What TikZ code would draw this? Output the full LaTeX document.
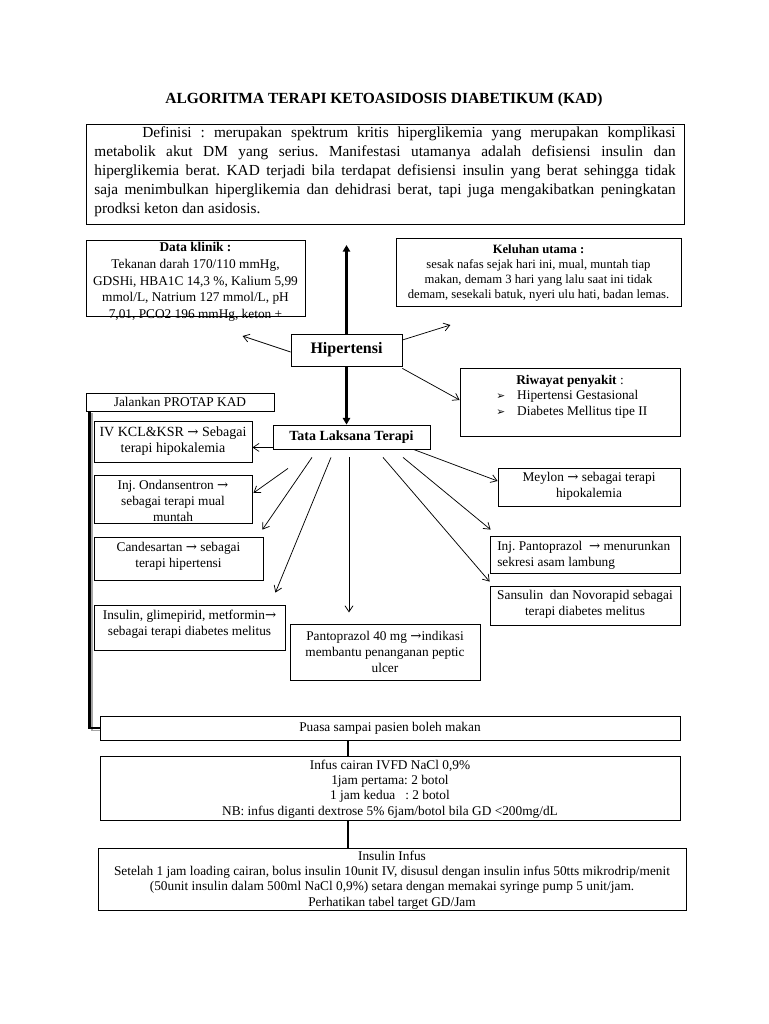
\documentclass[tikz,border=0pt]{standalone}
\usepackage{fontspec}
\setmainfont{Liberation Serif}
\newfontfamily\sym{DejaVu Sans}
\newfontfamily\arw{DejaVu Serif}
\usetikzlibrary{arrows.meta,calc,shadows}
\newcommand{\ra}{{\arw\fontsize{10}{10}\selectfont →}}
\frenchspacing
\begin{document}
\frenchspacing
\begin{tikzpicture}[x=0.75pt,y=-0.75pt,
  box/.style={draw=black,line width=0.6pt,fill=white,inner sep=0pt,
    drop shadow={shadow xshift=0.9pt,shadow yshift=-0.9pt,fill=black!45,opacity=1}},
  txt/.style={align=center,inner sep=0pt,font=\fontsize{10}{12}\selectfont},
  thin/.style={line width=0.55pt,-{Straight Barb[length=4.5pt,width=6pt]}},
  heavy/.style={line width=1.7pt,-{Triangle[length=5pt,width=5.5pt]}},
  heavyline/.style={line width=2.2pt}]
\useasboundingbox (0,0) rectangle (768,1024);
\fill[white] (0,0) rectangle (768,1024);

% title
\node[font=\bfseries\fontsize{11.6}{13}\selectfont] (title) at (384,100) {ALGORITMA TERAPI KETOASIDOSIS DIABETIKUM (KAD)};

% definisi
\node[box,minimum width=448.5pt,minimum height=75pt] (def) at (385,174) {};
\node[inner sep=0pt,text width=436pt,align=justify,font=\fontsize{11.5}{14.2}\selectfont] (deftext) at (385,172)
 {\frenchspacing\hspace*{36pt}Definisi : merupakan spektrum kritis hiperglikemia yang merupakan komplikasi\linebreak
 metabolik akut DM yang serius. Manifestasi utamanya adalah defisiensi insulin dan\linebreak
 hiperglikemia berat. KAD terjadi bila terdapat defisiensi insulin yang berat sehingga tidak\linebreak
 saja menimbulkan hiperglikemia dan dehidrasi berat, tapi juga mengakibatkan peningkatan\linebreak
 prodksi keton dan asidosis.};

% data klinik
\node[box,minimum width=164.25pt,minimum height=57pt] (dk) at (195.5,278) {};
\node[txt,font=\fontsize{10}{12.5}\selectfont] (dktext) at (195.5,282)
 {\textbf{Data klinik :}\\ Tekanan darah 170/110 mmHg,\\ GDSHi, HBA1C 14,3 \%, Kalium 5,99\\ mmol/L, Natrium 127 mmol/L, pH\\ 7,01, PCO2 196 mmHg, keton +};

% keluhan utama
\node[box,minimum width=213.75pt,minimum height=51pt] (ku) at (538.5,272) {};
\node[txt,font=\fontsize{9.5}{11.3}\selectfont] (kutext) at (538.5,273)
 {\textbf{Keluhan utama :}\\ sesak nafas sejak hari ini, mual, muntah tiap\\ makan, demam 3 hari yang lalu saat ini tidak\\ demam, sesekali batuk, nyeri ulu hati, badan lemas.};

% hipertensi
\node[box,minimum width=83.25pt,minimum height=24pt,font=\bfseries\fontsize{12}{13}\selectfont] (hip) at (346.5,350) {Hipertensi};

% riwayat
\node[box,minimum width=165pt,minimum height=51pt] (riw) at (570,402) {};
\node[txt] (riwtitle) at (570,381) {\textbf{Riwayat penyakit} :};
\node[txt,align=left,anchor=north west] (riwlist) at (496,389.5)
 {{\sym\fontsize{8}{10}\selectfont ➢}\hspace{9pt}Hipertensi Gestasional\\ {\sym\fontsize{8}{10}\selectfont ➢}\hspace{9pt}Diabetes Mellitus tipe II};

% jalankan protap
\node[box,minimum width=141pt,minimum height=13.5pt,font=\fontsize{10}{12}\selectfont] (jal) at (180,402) {Jalankan PROTAP KAD};

% tata laksana
\node[box,minimum width=117.75pt,minimum height=18pt,font=\bfseries\fontsize{10.5}{12}\selectfont] (tata) at (351.5,437) {Tata Laksana Terapi};

% left boxes
\node[box,minimum width=118.5pt,minimum height=30.75pt] (iv) at (173,441.5) {};
\node[txt,font=\fontsize{10.5}{12}\selectfont] (ivtext) at (173,441) {IV KCL\&KSR \ra{} Sebagai\\ terapi hipokalemia};

\node[box,minimum width=118.5pt,minimum height=36pt] (ond) at (173,499) {};
\node[txt] (ondtext) at (173,501) {Inj. Ondansentron \ra\\ sebagai terapi mual\\ muntah};

\node[box,minimum width=126.75pt,minimum height=32.25pt] (cand) at (178.5,558.5) {};
\node[txt] (candtext) at (178.5,556) {Candesartan \ra{} sebagai\\ terapi hipertensi};

\node[box,minimum width=143.25pt,minimum height=33.75pt] (ins) at (189.5,627.5) {};
\node[txt] (instext) at (189.5,624) {Insulin, glimepirid, metformin\ra\\ sebagai terapi diabetes melitus};

\node[box,minimum width=142.5pt,minimum height=42pt] (pan) at (385,652) {};
\node[txt] (pantext) at (385,652) {Pantoprazol 40 mg \ra indikasi\\ membantu penanganan peptic\\ ulcer};

% right boxes
\node[box,minimum width=136.5pt,minimum height=28.5pt] (mey) at (589,487) {};
\node[txt] (meytext) at (589,486.5) {Meylon \ra{} sebagai terapi\\ hipokalemia};

\node[box,minimum width=142.5pt,minimum height=27.75pt] (injp) at (585,554.5) {};
\node[txt,align=left,anchor=west] (injptext) at (497,555) {Inj. Pantoprazol \ \ra{} menurunkan\\ sekresi asam lambung};

\node[box,minimum width=142.5pt,minimum height=29.25pt] (san) at (585,605.5) {};
\node[txt] (santext) at (585,604.5) {Sansulin \ dan Novorapid sebagai\\ terapi diabetes melitus};

% bottom boxes
\node[box,minimum width=435pt,minimum height=18pt,font=\fontsize{10}{12}\selectfont] (puasa) at (390,728) {Puasa sampai pasien boleh makan};

\node[box,minimum width=435pt,minimum height=48pt] (inf) at (390,788) {};
\node[txt,font=\fontsize{10}{11.6}\selectfont] (inftext) at (390,789)
 {Infus cairan IVFD NaCl 0,9\%\\ 1jam pertama: 2 botol\\ 1 jam kedua \ \ : 2 botol\\ NB: infus diganti dextrose 5\% 6jam/botol bila GD <200mg/dL};

\node[box,minimum width=441pt,minimum height=46.5pt] (ii) at (392,879) {};
\node[txt,font=\fontsize{10}{11.6}\selectfont] (iitext) at (392,880)
 {Insulin Infus\\ Setelah 1 jam loading cairan, bolus insulin 10unit IV, disusul dengan insulin infus 50tts mikrodrip/menit\\ (50unit insulin dalam 500ml NaCl 0,9\%) setara dengan memakai syringe pump 5 unit/jam.\\ Perhatikan tabel target GD/Jam};

% free ends and helper points
\coordinate (top) at (346.5,245);
\coordinate (hl) at ($(hip.west)+(-48,-14)$);
\coordinate (hr) at ($(hip.east)+(48,-25)$);
\coordinate (pe) at ($(tata.south)+(-2.5,163)$);
\coordinate (tl) at ($(tata.south west)+(0,-2)$);
\coordinate (p1) at ($(puasa.south)+(-42,0)$);
\coordinate (p2) at ($(inf.south)+(-42,0)$);
\coordinate (j1) at ($(jal.south west)+(4,0)$);

% heavy arrows
\draw[heavy] (hip.north) -- (top);
\draw[heavy] (hip.south) -- (hip.south |- tata.north);

% hipertensi thin arrows
\draw[thin] ($(hip.west)+(0,2)$) -- (hl);
\draw[thin] ($(hip.east)+(0,-10)$) -- (hr);
\draw[thin] ($(hip.south east)+(0,2)$) -- ($(riw.west)+(0,-2)$);

% tata laksana arrows
\draw[thin] (tl) -- (tl -| iv.east);
\draw[thin] ($(tata.south)+(-63.5,19)$) -- ($(ond.east)+(1,-6)$);
\draw[thin] ($(tata.south)+(-39.5,8)$) -- ($(cand.north east)+(-1,-7)$);
\draw[thin] ($(tata.south)+(-20.5,8)$) -- ($(ins.north east)+(-10,-12)$);
\draw[thin] ($(tata.south)+(-2.5,8)$) -- (pe);
\draw[thin] ($(tata.south)+(31.5,8)$) -- ($(san.north west)+(0,-4)$);
\draw[thin] ($(tata.south)+(51.5,8)$) -- ($(injp.north west)+(1,-6)$);
\draw[thin] ($(tata.south east)+(-17,0)$) -- ($(mey.west)+(0,-6)$);

% heavy lines
\draw[line width=1.2pt,black!35] ($(j1)+(2.5,2)$) |- ($(puasa.west)+(0,2.5)$);
\draw[heavyline] (j1) |- (puasa.west);
\draw[heavyline] (p1) -- (p1 |- inf.north);
\draw[heavyline] (p2) -- (p2 |- ii.north);
\end{tikzpicture}
\end{document}
